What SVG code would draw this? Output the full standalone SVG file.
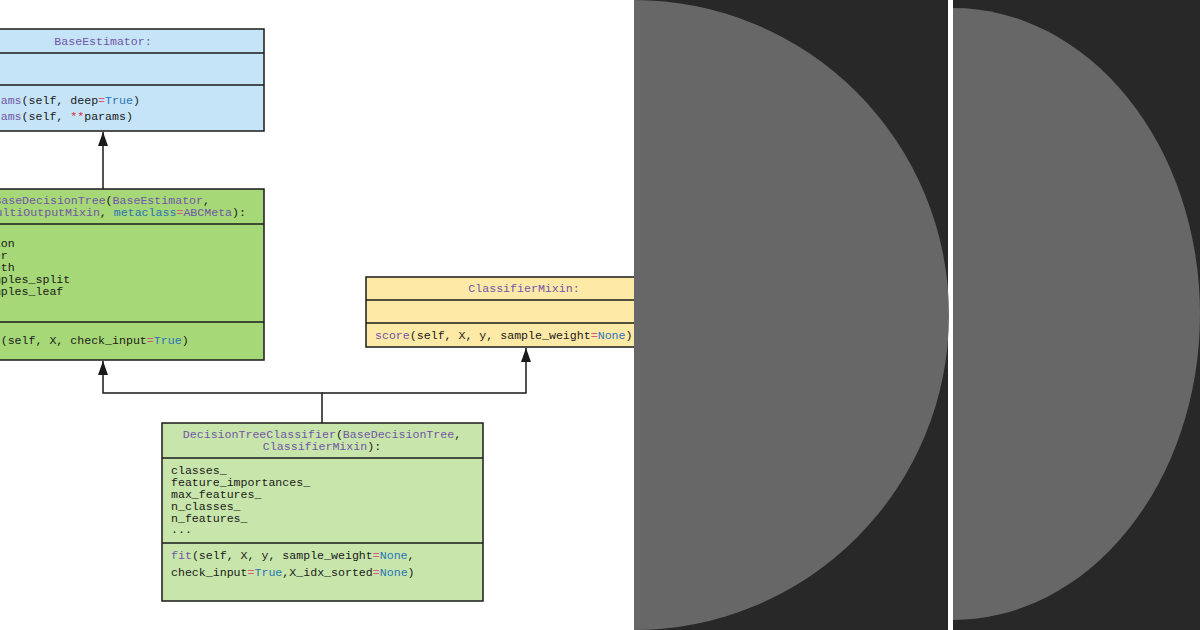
<svg xmlns="http://www.w3.org/2000/svg" width="1200" height="630" viewBox="0 0 1200 630">
<style>
text{font-family:"Liberation Mono","DejaVu Sans Mono",monospace;font-size:11.6px;fill:#1a1a1a}
.n{fill:#7156a8}.k{fill:#2a73b8}.o{fill:#e0567c}.r{fill:#d9303f}
.box{stroke:#1a1a1a;stroke-width:1.5}
.ln{stroke:#1a1a1a;stroke-width:1.5;fill:none}
</style>
<defs><marker id="ar" markerWidth="14" markerHeight="10" refX="14" refY="5" orient="auto" markerUnits="userSpaceOnUse" viewBox="0 0 14 10"><path d="M0,0 L14,5 L0,10 Z" fill="#1a1a1a"/></marker></defs>
<rect width="1200" height="630" fill="#fff"/>
<g id="BaseEstimator">
<rect class="box" x="-60" y="29" width="324" height="102" fill="#c5e4f7"/>
<line class="ln" x1="-60" y1="53" x2="264" y2="53"/><line class="ln" x1="-60" y1="85" x2="264" y2="85"/>
<text x="103" y="45" text-anchor="middle" class="n">BaseEstimator:</text>
<text x="-48" y="104"><tspan class="n">get_params</tspan>(self, deep<tspan class="o">=</tspan><tspan class="k">True</tspan>)</text>
<text x="-48" y="120"><tspan class="n">set_params</tspan>(self, <tspan class="r">**</tspan>params)</text>
</g>
<g id="BaseDecisionTree">
<rect class="box" x="-60" y="189" width="324" height="171" fill="#a6d877"/>
<line class="ln" x1="-60" y1="224" x2="264" y2="224"/><line class="ln" x1="-60" y1="322" x2="264" y2="322"/>
<text x="210" y="204" text-anchor="end"><tspan class="n">BaseDecisionTree</tspan>(<tspan class="n">BaseEstimator</tspan>,</text>
<text x="246" y="216" text-anchor="end"><tspan class="n">MultiOutputMixin</tspan>, <tspan class="k">metaclass</tspan><tspan class="o">=</tspan><tspan class="n">ABCMeta</tspan>):</text>
<text x="-48" y="247">criterion</text>
<text x="-48" y="259">splitter</text>
<text x="-48" y="271">max_depth</text>
<text x="-48" y="283">min_samples_split</text>
<text x="-48" y="295">min_samples_leaf</text>
<text x="-48" y="344"><tspan class="n">predict</tspan>(self, X, check_input<tspan class="o">=</tspan><tspan class="k">True</tspan>)</text>
</g>
<g id="ClassifierMixin">
<rect class="box" x="366" y="277" width="316" height="70" fill="#fee9a6"/>
<line class="ln" x1="366" y1="300" x2="682" y2="300"/><line class="ln" x1="366" y1="323" x2="682" y2="323"/>
<text x="524" y="292" text-anchor="middle" class="n">ClassifierMixin:</text>
<text x="375" y="339"><tspan class="n">score</tspan>(self, X, y, sample_weight<tspan class="o">=</tspan><tspan class="k">None</tspan>)</text>
</g>
<g id="DecisionTreeClassifier">
<rect class="box" x="162" y="423" width="321" height="178" fill="#c8e6ab"/>
<line class="ln" x1="162" y1="458" x2="483" y2="458"/><line class="ln" x1="162" y1="543" x2="483" y2="543"/>
<text x="322" y="438" text-anchor="middle"><tspan class="n">DecisionTreeClassifier</tspan>(<tspan class="n">BaseDecisionTree</tspan>,</text>
<text x="322" y="450" text-anchor="middle"><tspan class="n">ClassifierMixin</tspan>):</text>
<text x="171" y="474">classes_</text>
<text x="171" y="486">feature_importances_</text>
<text x="171" y="498">max_features_</text>
<text x="171" y="510">n_classes_</text>
<text x="171" y="522">n_features_</text>
<text x="171" y="533">...</text>
<text x="171" y="559"><tspan class="n">fit</tspan>(self, X, y, sample_weight<tspan class="o">=</tspan><tspan class="k">None</tspan>,</text>
<text x="171" y="576">check_input<tspan class="o">=</tspan><tspan class="k">True</tspan>,X_idx_sorted<tspan class="o">=</tspan><tspan class="k">None</tspan>)</text>
</g>
<g id="connectors">
<path class="ln" d="M103,189 V132" marker-end="url(#ar)"/>
<path class="ln" d="M322,423 V393 H103 V361" marker-end="url(#ar)"/>
<path class="ln" d="M322,393 H526 V348" marker-end="url(#ar)"/>
</g>
<g id="panels">
<rect x="634" y="0" width="566" height="630" fill="#282828"/>
<rect x="948" y="0" width="5" height="630" fill="#fff"/>
<path d="M634,0 A315,315 0 0 1 634,630 Z" fill="#676767"/>
<path d="M953,8 A247,306 0 0 1 953,620 Z" fill="#676767"/>
</g>
</svg>
